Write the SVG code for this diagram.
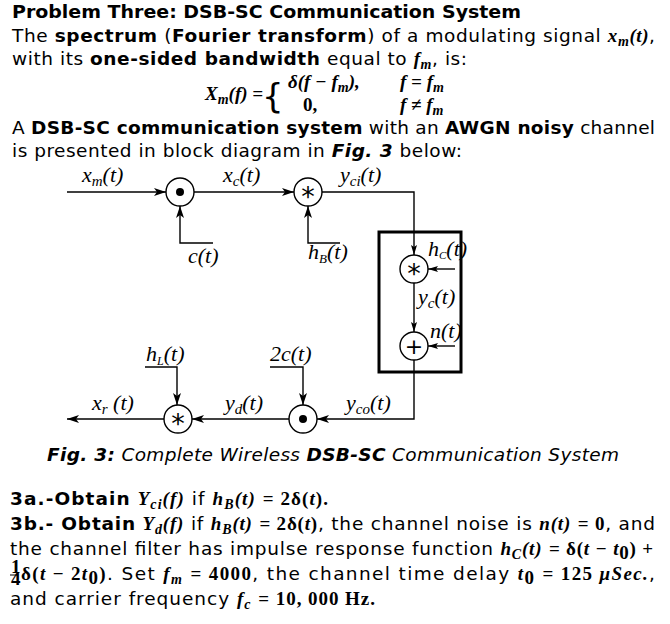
<svg xmlns="http://www.w3.org/2000/svg" width="670" height="624" viewBox="0 0 670 624">
<style>
.t{font-family:"DejaVu Sans",sans-serif;font-size:18.5px;fill:#000}
.b{font-weight:bold}
.m{font-family:"Liberation Serif",serif;font-style:italic;font-size:22px}
.mb{font-family:"Liberation Serif",serif;font-weight:bold;font-style:italic;font-size:19px}
.mr{font-family:"Liberation Serif",serif;font-weight:bold;font-size:19px}
.ln{fill:none;stroke:#000;stroke-width:1.4}
.c{fill:#fff;stroke:#000;stroke-width:1.4}
.op{font-family:"DejaVu Sans",sans-serif;font-size:27px;text-anchor:middle}
.pl{font-family:"DejaVu Sans",sans-serif;font-size:22px;text-anchor:middle}
</style>
<defs>
<marker id="a" viewBox="0 0 12 8" refX="12" refY="4" markerWidth="12" markerHeight="8" markerUnits="userSpaceOnUse" orient="auto"><path d="M0,0 L12,4 L0,8 L3,4 Z"/></marker>
<marker id="s" viewBox="0 0 10 6" refX="10" refY="3" markerWidth="10" markerHeight="6" markerUnits="userSpaceOnUse" orient="auto"><path d="M0,0 L10,3 L0,6 L2,3 Z"/></marker>
</defs>
<rect width="670" height="624" fill="#fff"/>
<g id="text-top">
<text class="t b" x="12" y="18" font-size="19" textLength="509" lengthAdjust="spacingAndGlyphs">Problem Three: DSB-SC Communication System</text>
<text class="t" x="12" y="42" textLength="643">The <tspan class="b">spectrum</tspan> (<tspan class="b">Fourier transform</tspan>) of a modulating signal <tspan class="mb" font-size="20">x<tspan font-size="14" dy="4">m</tspan><tspan dy="-4">(t)</tspan></tspan>,</text>
<text class="t" x="12" y="65" textLength="455">with its <tspan class="b">one-sided bandwidth</tspan> equal to <tspan class="mb" font-size="20">f<tspan font-size="14" dy="4">m</tspan></tspan><tspan dy="-4">, is:</tspan></text>
<text class="mb" x="205" y="100">X<tspan font-size="14" dy="4">m</tspan><tspan dy="-4">(f) =</tspan></text>
<text x="262" y="108" font-family="DejaVu Sans" font-size="34">{</text>
<text class="mb" x="288" y="88">δ(f − f<tspan font-size="14" dy="4">m</tspan><tspan dy="-4">),</tspan></text>
<text class="mb" x="400" y="88">f = f<tspan font-size="14" dy="4">m</tspan></text>
<text class="mr" x="303" y="111">0,</text>
<text class="mb" x="400" y="111">f ≠ f<tspan font-size="14" dy="4">m</tspan></text>
<text class="t" x="12" y="134" textLength="643">A <tspan class="b">DSB-SC communication system</tspan> with an <tspan class="b">AWGN noisy</tspan> channel</text>
<text class="t" x="12" y="157" textLength="450">is presented in block diagram  in <tspan class="b" font-style="italic">Fig. 3</tspan> below:</text>
</g>
<g id="connectors">
<line class="ln" x1="67" y1="192" x2="166" y2="192" marker-end="url(#a)"/>
<line class="ln" x1="194" y1="192" x2="294" y2="192" marker-end="url(#a)"/>
<polyline class="ln" points="322,192 414,192 414,255" marker-end="url(#s)"/>
<polyline class="ln" points="213,243 180,243 180,206" marker-end="url(#a)"/>
<polyline class="ln" points="340,243 308,243 308,206" marker-end="url(#a)"/>
<line class="ln" x1="455" y1="269" x2="428" y2="269" marker-end="url(#s)"/>
<line class="ln" x1="414" y1="283" x2="414" y2="332" marker-end="url(#s)"/>
<line class="ln" x1="455" y1="346" x2="428" y2="346" marker-end="url(#s)"/>
<polyline class="ln" points="414,360 414,419 317,419" marker-end="url(#a)"/>
<line class="ln" x1="289" y1="419" x2="192" y2="419" marker-end="url(#a)"/>
<line class="ln" x1="164" y1="419" x2="67" y2="419" marker-end="url(#a)"/>
<polyline class="ln" points="145,367 177,367 177,405" marker-end="url(#a)"/>
<polyline class="ln" points="270,367 303,367 303,405" marker-end="url(#a)"/>
</g>
<g id="channel-box"><rect x="379" y="232" width="82" height="140" fill="none" stroke="#000" stroke-width="3"/></g>
<g id="mod"><circle class="c" cx="180" cy="192" r="14"/><circle cx="180" cy="192" r="4"/></g>
<g id="bpf"><circle class="c" cx="308" cy="192" r="14"/><text class="op" x="308" y="206">*</text></g>
<g id="chan-conv"><circle class="c" cx="414" cy="269" r="14"/><text class="op" x="414" y="283">*</text></g>
<g id="noise-add"><circle class="c" cx="414" cy="346" r="14"/><text class="pl" x="414" y="354">+</text></g>
<g id="demod"><circle class="c" cx="303" cy="419" r="14"/><circle cx="303" cy="419" r="4"/></g>
<g id="lpf"><circle class="c" cx="178" cy="419" r="14"/><text class="op" x="178" y="433">*</text></g>
<g id="labels">
<text class="m" x="82" y="182">x<tspan font-size="15" dy="4">m</tspan><tspan dy="-4">(t)</tspan></text>
<text class="m" x="223" y="182">x<tspan font-size="15" dy="4">c</tspan><tspan dy="-4">(t)</tspan></text>
<text class="m" x="340" y="182">y<tspan font-size="15" dy="4">ci</tspan><tspan dy="-4">(t)</tspan></text>
<text class="m" x="188" y="263">c(t)</text>
<text class="m" x="308" y="259" font-size="19">h<tspan font-size="13" dy="4">B</tspan><tspan dy="-4">(t)</tspan></text>
<text class="m" x="428" y="256" font-size="17">h<tspan font-size="11" dy="3">C</tspan><tspan dy="-3">(t)</tspan></text>
<text class="m" x="418" y="304">y<tspan font-size="15" dy="4">c</tspan><tspan dy="-4">(t)</tspan></text>
<text class="m" x="430" y="338" font-size="18">n(t)</text>
<text class="m" x="146" y="361">h<tspan font-size="12" dy="4">L</tspan><tspan dy="-4">(t)</tspan></text>
<text class="m" x="270" y="361" font-style="normal">2<tspan font-style="italic">c</tspan>(<tspan font-style="italic">t</tspan>)</text>
<text class="m" x="92" y="410">x<tspan font-size="15" dy="4">r</tspan><tspan dy="-4"> (t)</tspan></text>
<text class="m" x="225" y="410">y<tspan font-size="15" dy="4">d</tspan><tspan dy="-4">(t)</tspan></text>
<text class="m" x="346" y="410">y<tspan font-size="15" dy="4">co</tspan><tspan dy="-4">(t)</tspan></text>
</g>
<g id="caption"><text class="t" x="47" y="461" font-style="italic" textLength="572"><tspan class="b">Fig. 3:</tspan> Complete Wireless <tspan class="b">DSB-SC</tspan> Communication System</text></g>
<g id="text-bottom">
<text class="t" x="10" y="505" font-size="19" textLength="318"><tspan class="b">3a.-Obtain</tspan>  <tspan class="mb" font-weight="normal">Y<tspan font-size="14" dy="4">ci</tspan><tspan dy="-4">(f)</tspan></tspan> if <tspan class="mb">h<tspan font-size="14" dy="4">B</tspan><tspan dy="-4">(t)</tspan></tspan> <tspan class="mr">= 2δ(</tspan><tspan class="mb">t</tspan><tspan class="mr">).</tspan></text>
<text class="t" x="10" y="530" font-size="19" textLength="645"><tspan class="b">3b.- Obtain</tspan> <tspan class="mb" font-weight="normal">Y<tspan font-size="14" dy="4">d</tspan><tspan dy="-4">(f)</tspan></tspan> if <tspan class="mb">h<tspan font-size="14" dy="4">B</tspan><tspan dy="-4">(t)</tspan></tspan> <tspan class="mr">= 2δ(</tspan><tspan class="mb">t</tspan><tspan class="mr">)</tspan>, the channel noise is <tspan class="mb">n(t)</tspan> <tspan class="mr">= 0</tspan>, and</text>
<text class="t" x="10" y="555" font-size="19" textLength="643">the channel filter has impulse response function <tspan class="mb">h<tspan font-size="14" dy="4">C</tspan><tspan dy="-4">(t)</tspan></tspan> <tspan class="mr">= δ(</tspan><tspan class="mb">t − t</tspan><tspan class="mr" font-size="14" dy="4">0</tspan><tspan class="mr" dy="-4">) +</tspan></text>
<text class="mr" x="11" y="573" font-size="10">1</text>
<line x1="10" y1="575" x2="18" y2="575" stroke="#000" stroke-width="1"/>
<text class="mr" x="11" y="585" font-size="10">4</text>
<text class="t" x="21" y="580" font-size="19" textLength="634"><tspan class="mr">δ(</tspan><tspan class="mb">t</tspan><tspan class="mr"> − 2</tspan><tspan class="mb">t</tspan><tspan class="mr" font-size="14" dy="4">0</tspan><tspan class="mr" dy="-4">)</tspan>.  Set <tspan class="mb">f<tspan font-size="14" dy="4">m</tspan></tspan> <tspan class="mr" dy="-4">= 4000</tspan>,  the  channel  time  delay  <tspan class="mb">t</tspan><tspan class="mr" font-size="14" dy="4">0</tspan> <tspan class="mr" dy="-4">= 125 </tspan><tspan class="mb">μSec.</tspan>,</text>
<text class="t" x="10" y="605" font-size="19" textLength="365">and carrier frequency  <tspan class="mb">f<tspan font-size="14" dy="4">c</tspan></tspan> <tspan class="mr" dy="-4">= 10, 000 Hz.</tspan></text>
</g>
</svg>
